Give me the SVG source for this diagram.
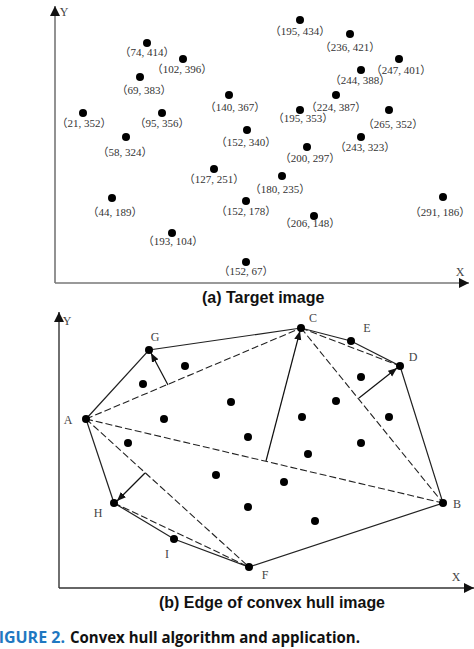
<svg xmlns="http://www.w3.org/2000/svg" width="474" height="649" viewBox="0 0 474 649">
<defs>
<marker id="axA" viewBox="0 0 10 10" refX="10" refY="5" markerWidth="10" markerHeight="10" markerUnits="userSpaceOnUse" orient="auto"><path d="M0,0 L10,5 L0,10 z" fill="#111"/></marker>
<marker id="arr" viewBox="0 0 10 10" refX="10" refY="5" markerWidth="9" markerHeight="9" markerUnits="userSpaceOnUse" orient="auto"><path d="M0,1 L10,5 L0,9 z" fill="#111"/></marker>
</defs>
<style>
.ax{stroke:#777;stroke-width:1.6;fill:none}
.axb{stroke:#333;stroke-width:1.4;fill:none}
.pt{fill:#000}
.lb{font-family:"Liberation Serif","Noto Sans CJK SC",serif;font-size:11px;fill:#333;text-anchor:middle}
.al{font-family:"Liberation Serif",serif;font-size:12px;fill:#444;text-anchor:middle}
.cap{font-family:"Liberation Sans",Arial,sans-serif;font-weight:bold;font-size:16px;fill:#111}
.fig{font-family:"Open Sans","Noto Sans",sans-serif;font-weight:700;font-size:16px}
.solid{stroke:#222;stroke-width:1.2;fill:none}
.dash{stroke:#222;stroke-width:1.1;fill:none;stroke-dasharray:7,3}
.arw{stroke:#111;stroke-width:1.2;fill:none;marker-end:url(#arr)}
</style>
<rect width="474" height="649" fill="#fff"/>

<!-- Panel a -->
<g id="axes-a">
<line class="ax" x1="55" y1="283" x2="55" y2="6" marker-end="url(#axA)"/>
<line class="ax" x1="55" y1="283" x2="469" y2="283" marker-end="url(#axA)"/>
<text class="al" x="64" y="16" font-size="11">Y</text>
<text class="al" x="460" y="276" font-size="11">X</text>
</g>
<g id="points-a">
<g id="p74-414"><circle class="pt" cx="147" cy="43" r="4"/><text class="lb" x="147" y="56">（74, 414）</text></g>
<g id="p102-396"><circle class="pt" cx="183" cy="59" r="4"/><text class="lb" x="182" y="73">（102, 396）</text></g>
<g id="p69-383"><circle class="pt" cx="140" cy="77" r="4"/><text class="lb" x="144" y="94">（69, 383）</text></g>
<g id="p21-352"><circle class="pt" cx="83" cy="113" r="4"/><text class="lb" x="84" y="127">（21, 352）</text></g>
<g id="p95-356"><circle class="pt" cx="162" cy="113" r="4"/><text class="lb" x="162" y="127">（95, 356）</text></g>
<g id="p140-367"><circle class="pt" cx="229" cy="95" r="4"/><text class="lb" x="235" y="111">（140, 367）</text></g>
<g id="p58-324"><circle class="pt" cx="126" cy="137" r="4"/><text class="lb" x="125" y="156">（58, 324）</text></g>
<g id="p152-340"><circle class="pt" cx="247" cy="130" r="4"/><text class="lb" x="246" y="146">（152, 340）</text></g>
<g id="p127-251"><circle class="pt" cx="214" cy="169" r="4"/><text class="lb" x="214" y="183">（127, 251）</text></g>
<g id="p44-189"><circle class="pt" cx="112" cy="198" r="4"/><text class="lb" x="115" y="216">（44, 189）</text></g>
<g id="p193-104"><circle class="pt" cx="172" cy="233" r="4"/><text class="lb" x="173" y="245">（193, 104）</text></g>
<g id="p152-67"><circle class="pt" cx="246" cy="262" r="4"/><text class="lb" x="246" y="275">（152, 67）</text></g>
<g id="p152-178"><circle class="pt" cx="246" cy="201" r="4"/><text class="lb" x="246" y="215">（152, 178）</text></g>
<g id="p180-235"><circle class="pt" cx="282" cy="176" r="4"/><text class="lb" x="280" y="193">（180, 235）</text></g>
<g id="p206-148"><circle class="pt" cx="314" cy="216" r="4"/><text class="lb" x="310" y="227">（206, 148）</text></g>
<g id="p200-297"><circle class="pt" cx="307" cy="147" r="4"/><text class="lb" x="310" y="162">（200, 297）</text></g>
<g id="p291-186"><circle class="pt" cx="443" cy="197" r="4"/><text class="lb" x="440" y="216">（291, 186）</text></g>
<g id="p243-323"><circle class="pt" cx="361" cy="137" r="4"/><text class="lb" x="365" y="151">（243, 323）</text></g>
<g id="p195-434"><circle class="pt" cx="300" cy="20" r="4"/><text class="lb" x="300" y="35">（195, 434）</text></g>
<g id="p236-421"><circle class="pt" cx="350" cy="34" r="4"/><text class="lb" x="350" y="51">（236, 421）</text></g>
<g id="p247-401"><circle class="pt" cx="399" cy="59" r="4"/><text class="lb" x="401" y="74">（247, 401）</text></g>
<g id="p244-388"><circle class="pt" cx="361" cy="70" r="4"/><text class="lb" x="360" y="84">（244, 388）</text></g>
<g id="p224-387"><circle class="pt" cx="336" cy="95" r="4"/><text class="lb" x="336" y="111">（224, 387）</text></g>
<g id="p195-353"><circle class="pt" cx="300" cy="110" r="4"/><text class="lb" x="303" y="122">（195, 353）</text></g>
<g id="p265-352"><circle class="pt" cx="389" cy="110" r="4"/><text class="lb" x="393" y="128">（265, 352）</text></g>
</g>
<text class="cap" x="202" y="303">(a) Target image</text>

<!-- Panel b -->
<g id="axes-b">
<line class="axb" x1="59" y1="588" x2="59" y2="312" marker-end="url(#axA)"/>
<line class="axb" x1="59" y1="588" x2="474" y2="588" marker-end="url(#axA)"/>
<text class="al" x="67" y="325" font-size="11">Y</text>
<text class="al" x="456" y="581" font-size="11">X</text>
</g>
<g id="connectors">
<polyline class="solid" points="86,419 149,350 301,328 351,341 400,366 443,503 249,567 174,539 114,503 86,419"/>
<line class="dash" x1="86" y1="419" x2="301" y2="328"/>
<line class="dash" x1="86" y1="419" x2="443" y2="503"/>
<line class="dash" x1="86" y1="419" x2="249" y2="567"/>
<line class="dash" x1="301" y1="328" x2="443" y2="503"/>
<line class="dash" x1="301" y1="328" x2="400" y2="366"/>
<line class="dash" x1="114" y1="503" x2="249" y2="567"/>
<line class="arw" x1="168" y1="385" x2="151" y2="353"/>
<line class="arw" x1="266" y1="461" x2="300" y2="331"/>
<line class="arw" x1="359" y1="398" x2="397" y2="368"/>
<line class="arw" x1="145" y1="473" x2="117" y2="501"/>
</g>
<g id="interior-b">
<circle class="pt" cx="185" cy="366" r="4"/>
<circle class="pt" cx="143" cy="384" r="4"/>
<circle class="pt" cx="231" cy="402" r="4"/>
<circle class="pt" cx="164" cy="419" r="4"/>
<circle class="pt" cx="128" cy="443" r="4"/>
<circle class="pt" cx="248" cy="437" r="4"/>
<circle class="pt" cx="216" cy="475" r="4"/>
<circle class="pt" cx="361" cy="377" r="4"/>
<circle class="pt" cx="336" cy="401" r="4"/>
<circle class="pt" cx="302" cy="417" r="4"/>
<circle class="pt" cx="389" cy="417" r="4"/>
<circle class="pt" cx="361" cy="443" r="4"/>
<circle class="pt" cx="308" cy="454" r="4"/>
<circle class="pt" cx="284" cy="482" r="4"/>
<circle class="pt" cx="248" cy="507" r="4"/>
<circle class="pt" cx="315" cy="521" r="4"/>
</g>
<g id="node-A"><circle class="pt" cx="86" cy="419" r="4"/><text class="al" x="68" y="424">A</text></g>
<g id="node-G"><circle class="pt" cx="149" cy="350" r="4"/><text class="al" x="155" y="341">G</text></g>
<g id="node-C"><circle class="pt" cx="301" cy="328" r="4"/><text class="al" x="313" y="322">C</text></g>
<g id="node-E"><circle class="pt" cx="351" cy="341" r="4"/><text class="al" x="367" y="332">E</text></g>
<g id="node-D"><circle class="pt" cx="400" cy="366" r="4"/><text class="al" x="413" y="361">D</text></g>
<g id="node-B"><circle class="pt" cx="443" cy="503" r="4"/><text class="al" x="457" y="508">B</text></g>
<g id="node-F"><circle class="pt" cx="249" cy="567" r="4"/><text class="al" x="265" y="579">F</text></g>
<g id="node-I"><circle class="pt" cx="174" cy="539" r="4"/><text class="al" x="167" y="558">I</text></g>
<g id="node-H"><circle class="pt" cx="114" cy="503" r="4"/><text class="al" x="98" y="517">H</text></g>
<text class="cap" x="159" y="608" textLength="226" lengthAdjust="spacingAndGlyphs">(b) Edge of convex hull image</text>

<text class="fig" x="65" y="643" text-anchor="end" fill="#1f78c1">FIGURE 2.</text>
<text class="fig" x="70" y="643" fill="#111" textLength="290" lengthAdjust="spacingAndGlyphs">Convex hull algorithm and application.</text>
</svg>
